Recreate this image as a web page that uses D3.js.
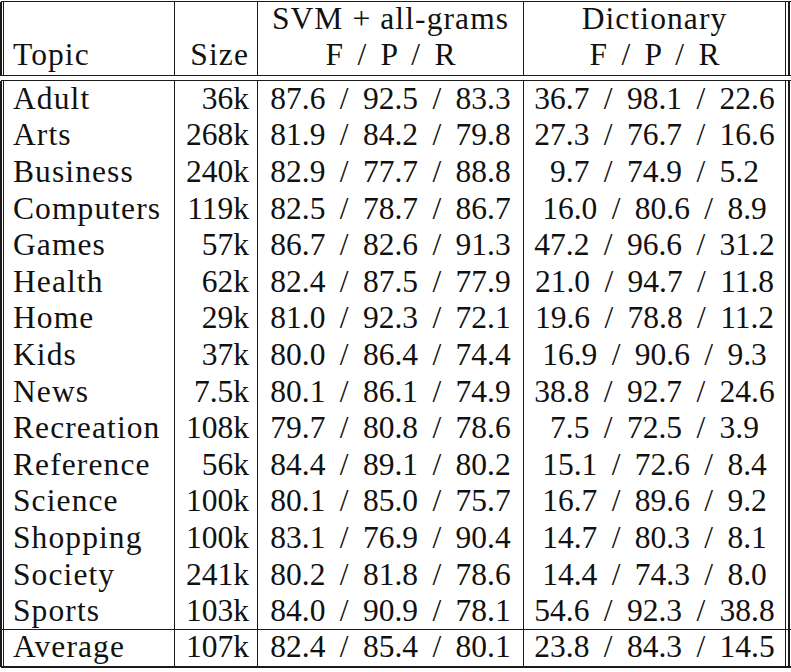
<!DOCTYPE html>
<html>
<head>
<meta charset="utf-8">
<script src="https://cdn.jsdelivr.net/npm/d3@7"></script>
<style>
  html, body { margin: 0; padding: 0; background: #fff; }
  svg { display: block; }
  text { font-family: "Liberation Serif", serif; font-size: 31.5px; fill: #111; }
  .word { letter-spacing: 1.1px; }
  .num { word-spacing: 6.5px; }
  .rule { stroke: #1a1a1a; stroke-width: 1.4; shape-rendering: crispEdges; }
</style>
</head>
<body>
<svg width="791" height="672"></svg>
<script>
const topics = ["Adult", "Arts", "Business", "Computers", "Games", "Health", "Home", "Kids",
    "News", "Recreation", "Reference", "Science", "Shopping", "Society", "Sports"];
const sizes = ["36k", "268k", "240k", "119k", "57k", "62k", "29k", "37k",
    "7.5k", "108k", "56k", "100k", "100k", "241k", "103k"];
const svmF = [87.6, 81.9, 82.9, 82.5, 86.7, 82.4, 81.0, 80.0, 80.1, 79.7, 84.4, 80.1, 83.1, 80.2, 84.0];
const svmP = [92.5, 84.2, 77.7, 78.7, 82.6, 87.5, 92.3, 86.4, 86.1, 80.8, 89.1, 85.0, 76.9, 81.8, 90.9];
const svmR = [83.3, 79.8, 88.8, 86.7, 91.3, 77.9, 72.1, 74.4, 74.9, 78.6, 80.2, 75.7, 90.4, 78.6, 78.1];
const dictF = [36.7, 27.3, 9.7, 16.0, 47.2, 21.0, 19.6, 16.9, 38.8, 7.5, 15.1, 16.7, 14.7, 14.4, 54.6];
const dictP = [98.1, 76.7, 74.9, 80.6, 96.6, 94.7, 78.8, 90.6, 92.7, 72.5, 72.6, 89.6, 80.3, 74.3, 92.3];
const dictR = [22.6, 16.6, 5.2, 8.9, 31.2, 11.8, 11.2, 9.3, 24.6, 3.9, 8.4, 9.2, 8.1, 8.0, 38.8];
const average = { topic: "Average", size: "107k", svm: [82.4, 85.4, 80.1], dict: [23.8, 84.3, 14.5] };
const headTop = ["", "", "SVM + all-grams", "Dictionary"];
const headBottom = ["Topic", "Size", "F / P / R", "F / P / R"];

const W = 791;
const svg = d3.select("svg");

// column edges: outer | Topic | Size | SVM | Dictionary | outer
const colEdges = [3.5, 174.5, 257.5, 523.5, 785.5];
const yTop = 1.5, headLo = 75.5, headHi = 80.5, avgLine = 629.5, yBottom = 667;

const y = d3.scaleBand().domain(topics).range([headHi, avgLine]);

const fmt = d3.format(".1f");
const triple = (a, b, c) => `${fmt(a)} / ${fmt(b)} / ${fmt(c)}`;

const rows = topics.map((t, i) => ({
    topic: t,
    size: sizes[i],
    svm: triple(svmF[i], svmP[i], svmR[i]),
    dict: triple(dictF[i], dictP[i], dictR[i]),
    yb: y(t) + y.bandwidth() / 2 + 10
}));
rows.push({
    topic: average.topic,
    size: average.size,
    svm: triple(...average.svm),
    dict: triple(...average.dict),
    yb: (avgLine + yBottom) / 2 + 9
});

// horizontal rules
const hLines = [yTop, headLo, headHi, avgLine, yBottom];
svg.selectAll("line.h").data(hLines).enter().append("line")
    .attr("class", "rule h")
    .attr("x1", 0.5).attr("x2", W - 0.5)
    .attr("y1", d => d).attr("y2", d => d);

// vertical rules, broken at the double header line
const vx = [0.8, ...colEdges, 788.8];
const segs = [];
vx.forEach(x => {
    segs.push([x, yTop, headLo]);
    segs.push([x, headHi, yBottom]);
});
svg.selectAll("line.v").data(segs).enter().append("line")
    .attr("class", "rule v")
    .attr("x1", d => d[0]).attr("x2", d => d[0])
    .attr("y1", d => d[1]).attr("y2", d => d[2]);

// text positions per column
const cols = [
    { key: "topic", x: 13, anchor: "start", cls: "word" },
    { key: "size", x: 249, anchor: "end", cls: "" },
    { key: "svm", x: (colEdges[2] + colEdges[3]) / 2, anchor: "middle", cls: "num" },
    { key: "dict", x: (colEdges[3] + colEdges[4]) / 2, anchor: "middle", cls: "num" }
];

// headers
svg.selectAll("text.h1").data(headTop).enter().append("text")
    .attr("class", "word")
    .attr("x", (d, i) => cols[i].x)
    .attr("y", 29)
    .attr("text-anchor", (d, i) => cols[i].anchor)
    .text(d => d);
svg.selectAll("text.h2").data(headBottom).enter().append("text")
    .attr("class", (d, i) => i < 2 ? "word" : "num")
    .attr("x", (d, i) => cols[i].x)
    .attr("y", 65)
    .attr("text-anchor", (d, i) => cols[i].anchor)
    .text(d => d);

// body
const g = svg.selectAll("g.row").data(rows).enter().append("g").attr("class", "row");
cols.forEach(c => {
    g.append("text")
        .attr("class", c.cls)
        .attr("x", c.x)
        .attr("y", d => d.yb)
        .attr("text-anchor", c.anchor)
        .text(d => d[c.key]);
});
</script>
</body>
</html>
